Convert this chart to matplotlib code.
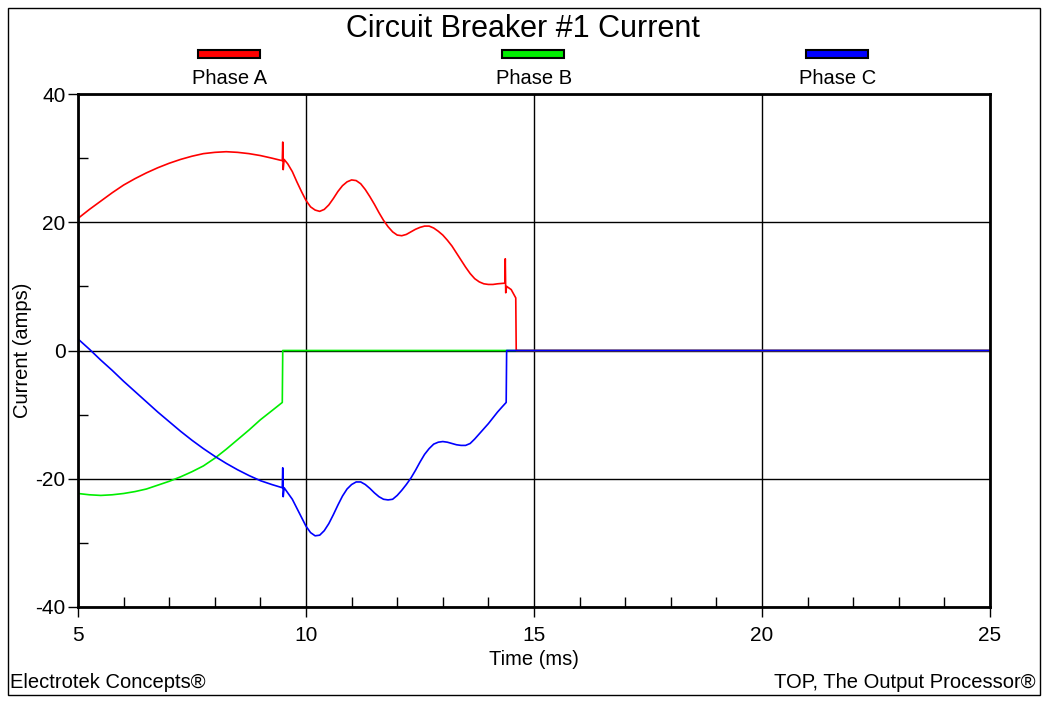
import matplotlib
matplotlib.use("Agg")
import matplotlib.pyplot as plt
from matplotlib.patches import Rectangle
from matplotlib.ticker import MultipleLocator

plt.rcParams['font.family'] = ['Liberation Sans', 'DejaVu Sans']
plt.rcParams['axes.unicode_minus'] = False

# Phase A (red)
t_a = [5.0, 5.25, 5.5, 5.75, 6.0, 6.25, 6.5, 6.75, 7.0, 7.25, 7.5, 7.75, 8.0, 8.25,
       8.5, 8.75, 9.0, 9.25, 9.48, 9.49, 9.5, 9.52, 9.6, 9.7, 9.8, 9.9, 10.0, 10.1, 10.2,
       10.3, 10.4, 10.5, 10.6, 10.7, 10.8, 10.9, 11.0, 11.1, 11.2, 11.3, 11.4, 11.5, 11.6,
       11.7, 11.8, 11.9, 12.0, 12.1, 12.2, 12.3, 12.4, 12.5, 12.6, 12.7, 12.8, 12.9, 13.0,
       13.1, 13.2, 13.3, 13.4, 13.5, 13.6, 13.7, 13.8, 13.9, 14.0, 14.1, 14.2, 14.36,
       14.37, 14.38, 14.4, 14.5, 14.6, 14.61, 25.0]
i_a = [20.6, 22.0, 23.3, 24.6, 25.8, 26.8, 27.7, 28.5, 29.2, 29.8, 30.3, 30.7, 30.9, 31.0,
       30.9, 30.7, 30.4, 30.0, 29.6, 32.5, 28.2, 29.8, 29.1, 27.9, 26.3, 24.8, 23.4, 22.4, 21.9,
       21.7, 22.0, 22.7, 23.7, 24.8, 25.7, 26.3, 26.6, 26.5, 26.0, 25.1, 24.0, 22.8, 21.5,
       20.3, 19.3, 18.5, 18.0, 17.9, 18.1, 18.5, 18.9, 19.2, 19.4, 19.4, 19.1, 18.6, 18.0,
       17.2, 16.3, 15.2, 14.1, 13.0, 12.0, 11.2, 10.7, 10.4, 10.3, 10.3, 10.4, 10.5,
       14.3, 9.0, 10.0, 9.5, 8.2, 0.0, 0.0]

# Phase B (green)
t_b = [5.0, 5.25, 5.5, 5.75, 6.0, 6.25, 6.5, 6.75, 7.0, 7.25, 7.5, 7.75, 8.0, 8.25,
       8.5, 8.75, 9.0, 9.25, 9.48, 9.49, 25.0]
i_b = [-22.3, -22.5, -22.6, -22.5, -22.3, -22.0, -21.6, -21.0, -20.4, -19.7, -18.9, -18.0,
       -16.8, -15.4, -13.9, -12.4, -10.8, -9.4, -8.1, 0.0, 0.0]

# Phase C (blue)
t_c = [5.0, 5.25, 5.5, 5.75, 6.0, 6.25, 6.5, 6.75, 7.0, 7.25, 7.5, 7.75, 8.0, 8.25,
       8.5, 8.75, 9.0, 9.25, 9.48, 9.49, 9.5, 9.52, 9.6, 9.7, 9.8, 9.9, 10.0, 10.1, 10.2,
       10.3, 10.4, 10.5, 10.6, 10.7, 10.8, 10.9, 11.0, 11.1, 11.2, 11.3, 11.4, 11.5, 11.6,
       11.7, 11.8, 11.9, 12.0, 12.1, 12.2, 12.3, 12.4, 12.5, 12.6, 12.7, 12.8, 12.9, 13.0,
       13.1, 13.2, 13.3, 13.4, 13.5, 13.6, 13.7, 13.8, 13.9, 14.0, 14.1, 14.2, 14.3,
       14.39, 14.4, 25.0]
i_c = [1.8, 0.2, -1.5, -3.1, -4.8, -6.4, -8.0, -9.6, -11.1, -12.6, -14.0, -15.3, -16.5, -17.6,
       -18.6, -19.5, -20.3, -20.9, -21.4, -18.3, -22.8, -21.4, -22.2, -23.2, -24.6, -26.0, -27.4,
       -28.4, -28.9, -28.8, -28.1, -27.0, -25.6, -24.1, -22.7, -21.6, -20.9, -20.5, -20.5,
       -20.9, -21.5, -22.2, -22.8, -23.2, -23.3, -23.2, -22.6, -21.8, -20.9, -19.9, -18.7,
       -17.4, -16.2, -15.3, -14.6, -14.3, -14.2, -14.3, -14.5, -14.7, -14.8, -14.8, -14.5,
       -13.8, -13.0, -12.2, -11.4, -10.5, -9.6, -8.8, -8.1, 0.0, 0.0]

phases = ["Phase A", "Phase B", "Phase C"]
colors = ["#ff0000", "#00ee00", "#0000ff"]

fig = plt.figure(figsize=(10.45, 7.04), dpi=100)
ax = fig.add_axes([78 / 1045, 97 / 704, 912 / 1045, 513 / 704])

ax.plot(t_b, i_b, color=colors[1], lw=1.2)
ax.plot(t_a, i_a, color=colors[0], lw=1.2)
ax.plot(t_c, i_c, color=colors[2], lw=1.2)

ax.set_xlim(5, 25)
ax.set_ylim(-40, 40)
ax.set_xticks([5, 10, 15, 20, 25])
ax.set_yticks([-40, -20, 0, 20, 40])
ax.xaxis.set_minor_locator(MultipleLocator(1))
ax.yaxis.set_minor_locator(MultipleLocator(10))
ax.tick_params(which='major', direction='out', length=7, width=1, labelsize=15, color='black')
ax.tick_params(which='minor', direction='in', length=7, width=1, color='black')
ax.tick_params(axis='x', pad=7)
ax.tick_params(axis='y', pad=2)
ax.grid(True, which='major', color='black', lw=1)
for s in ax.spines.values():
    s.set_linewidth(2)
ax.set_xlabel("Time (ms)", fontsize=14.5, labelpad=3)
ax.set_ylabel("Current (amps)", fontsize=14.5, labelpad=2)

fig.text(0.5, 1 - 29 / 704, "Circuit Breaker #1 Current", ha='center', va='center', fontsize=22)

# legend swatches
sw_x = [198, 502, 806]
for name, c, x0 in zip(phases, colors, sw_x):
    fig.patches.append(Rectangle((x0 / 1045, 1 - 58 / 704), 62 / 1045, 8 / 704,
                                 transform=fig.transFigure, facecolor=c,
                                 edgecolor='black', lw=1.5))
    fig.text((x0 + 32) / 1045, 1 - 79 / 704, name, ha='center', va='center', fontsize=14.5)

fig.patches.append(Rectangle((8 / 1045, 1 - 695 / 704), 1032 / 1045, 687 / 704,
                             transform=fig.transFigure, fill=False,
                             edgecolor='black', lw=1))
fig.text(10 / 1045, 1 - 682 / 704, "Electrotek Concepts®", ha='left', va='center', fontsize=14.5)
fig.text(1036 / 1045, 1 - 682 / 704, "TOP, The Output Processor®", ha='right', va='center', fontsize=14.5)

fig.savefig("out.png", dpi=100, facecolor='white')
